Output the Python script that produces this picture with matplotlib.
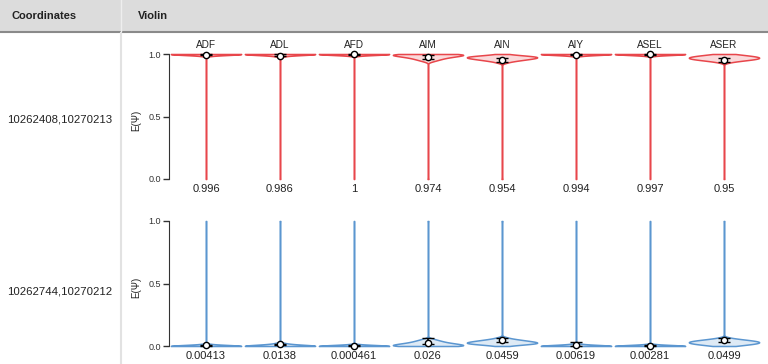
import numpy as np
import matplotlib.pyplot as plt
from matplotlib.patches import Rectangle
from matplotlib.lines import Line2D
from matplotlib.colors import to_rgba

plt.rcParams['font.family'] = ['Liberation Sans', 'DejaVu Sans']

# categories and the two rows of the table
names = ["ADF", "ADL", "AFD", "AIM", "AIN", "AIY", "ASEL", "ASER"]
coords = ["10262408,10270213", "10262744,10270212"]

# mean E(psi) printed under each violin
top_means = [0.996, 0.986, 1, 0.974, 0.954, 0.994, 0.997, 0.95]
bot_means = [0.00413, 0.0138, 0.000461, 0.026, 0.0459, 0.00619, 0.00281, 0.0499]

# interval drawn as black error bar (low, high)
top_lo = [0.99, 0.985, 0.995, 0.96, 0.94, 0.99, 0.993, 0.936]
top_hi = [1.0, 1.0, 1.0, 0.99, 0.968, 1.0, 1.0, 0.966]
bot_lo = [0.0, 0.005, 0.0, 0.014, 0.035, 0.0, 0.0, 0.032]
bot_hi = [0.01, 0.02, 0.005, 0.062, 0.067, 0.035, 0.006, 0.067]

# psi values per sample, as value / count pairs (estimated from violin shapes)
top_vals = [
    [0.0, 0.98, 0.99, 1.0],
    [0.0, 0.97, 0.98, 0.99, 1.0],
    [0.0, 0.99, 1.0],
    [0.0, 0.94, 0.95, 0.96, 0.97, 0.98, 0.99, 1.0],
    [0.0, 0.93, 0.94, 0.95, 0.96, 0.97, 0.98, 0.99, 1.0],
    [0.0, 0.98, 0.99, 1.0],
    [0.0, 0.99, 1.0],
    [0.0, 0.93, 0.94, 0.95, 0.96, 0.97, 0.98, 0.99, 1.0],
]
top_counts = [
    [1, 2, 6, 120],
    [1, 2, 4, 10, 100],
    [1, 2, 150],
    [1, 5, 10, 15, 20, 30, 40, 45],
    [1, 5, 10, 20, 30, 40, 40, 20, 5],
    [1, 2, 6, 120],
    [1, 4, 140],
    [1, 5, 15, 30, 45, 50, 45, 30, 15],
]
bot_vals = [
    [0.0, 0.01, 0.02, 1.0],
    [0.0, 0.01, 0.02, 0.03, 1.0],
    [0.0, 0.01, 1.0],
    [0.0, 0.01, 0.02, 0.03, 0.04, 0.05, 0.06, 1.0],
    [0.0, 0.01, 0.02, 0.03, 0.04, 0.05, 0.06, 0.07, 1.0],
    [0.0, 0.01, 0.02, 1.0],
    [0.0, 0.01, 1.0],
    [0.0, 0.01, 0.02, 0.03, 0.04, 0.05, 0.06, 0.07, 1.0],
]
bot_counts = [
    [120, 6, 2, 1],
    [80, 20, 8, 2, 1],
    [150, 2, 1],
    [45, 40, 30, 20, 15, 10, 5, 1],
    [5, 20, 40, 40, 30, 20, 10, 5, 1],
    [100, 10, 3, 1],
    [140, 4, 1],
    [15, 30, 45, 50, 45, 30, 15, 5, 1],
]

W, H = 768, 364
BW = 0.008  # kde bandwidth in psi units

fig = plt.figure(figsize=(W / 100, H / 100), dpi=100)

# table header
fig.add_artist(Rectangle((0, 1 - 31 / H), 1, 31 / H, transform=fig.transFigure,
                         facecolor="#dcdcdc", edgecolor="none"))
fig.add_artist(Line2D([0, 1], [1 - 32 / H] * 2, transform=fig.transFigure,
                      color="#8a8a8a", lw=1.5))
fig.add_artist(Line2D([121 / W] * 2, [1 - 31 / H, 1], transform=fig.transFigure,
                      color="#eeeeee", lw=1))
fig.add_artist(Line2D([121 / W] * 2, [0, 1 - 33 / H], transform=fig.transFigure,
                      color="#e2e2e2", lw=1.5))
fig.text(12 / W, 1 - 16 / H, "Coordinates", fontsize=8, fontweight="bold",
         va="center", color="#222222")
fig.text(138 / W, 1 - 16 / H, "Violin", fontsize=8, fontweight="bold",
         va="center", color="#222222")


def bw(kde):
    return BW / kde.dataset.std(ddof=1)


def panel(top_px, vals, counts, means, lo, hi, color, show_names):
    ax = fig.add_axes([169 / W, 1 - (top_px + 125) / H, 666 / W, 125 / H])
    ax.set_facecolor("none")
    data = [np.repeat(v, c) for v, c in zip(vals, counts)]
    pos = np.arange(len(names))
    parts = ax.violinplot(data, positions=pos, widths=0.95, showextrema=False,
                          points=1000, bw_method=bw)
    for b in parts["bodies"]:
        b.set_facecolor(to_rgba(color, 0.2))
        b.set_edgecolor(color)
        b.set_alpha(None)
        b.set_linewidth(1.1)
        b.set_clip_on(False)
    means = np.array(means, dtype=float)
    yerr = [means - np.array(lo), np.array(hi) - means]
    ax.errorbar(pos, means, yerr=yerr, fmt="o", ms=4.5, mfc="white", mec="black",
                mew=1, ecolor="black", elinewidth=1.2, capsize=4.5, capthick=1.5,
                zorder=5, clip_on=False)

    ax.set_xlim(-0.5, 8.5)
    ax.set_ylim(0, 1)
    for s in ["top", "right", "bottom"]:
        ax.spines[s].set_visible(False)
    ax.spines["left"].set_color("#333333")
    ax.set_xticks([])
    ax.set_yticks([0, 0.5, 1.0])
    ax.set_yticklabels(["0.0", "0.5", "1.0"])
    ax.tick_params(axis="y", length=4, width=1, labelsize=6.5, colors="#333333", pad=2)

    tr = ax.get_xaxis_transform()
    for i, m in enumerate(means):
        ax.text(i, -10 / 125, f"{m:g}", transform=tr, ha="center", va="center",
                fontsize=8, color="#222222")
        if show_names:
            ax.text(i, 1 + 9 / 125, names[i], transform=tr, ha="center",
                    va="center", fontsize=7.2, color="#222222")
    ax.text(-33 / 666, 0.47, "E(Ψ)", transform=ax.transAxes, rotation=90,
            ha="center", va="center", fontsize=7, color="#222222")
    return ax


panel(54, top_vals, top_counts, top_means, top_lo, top_hi, "#e8464b", True)
panel(221, bot_vals, bot_counts, bot_means, bot_lo, bot_hi, "#5b96d0", False)

fig.text(7 / W, 1 - 120 / H, coords[0], fontsize=8.2, va="center", color="#222222")
fig.text(7 / W, 1 - 292 / H, coords[1], fontsize=8.2, va="center", color="#222222")

fig.savefig("out.png", dpi=100)
